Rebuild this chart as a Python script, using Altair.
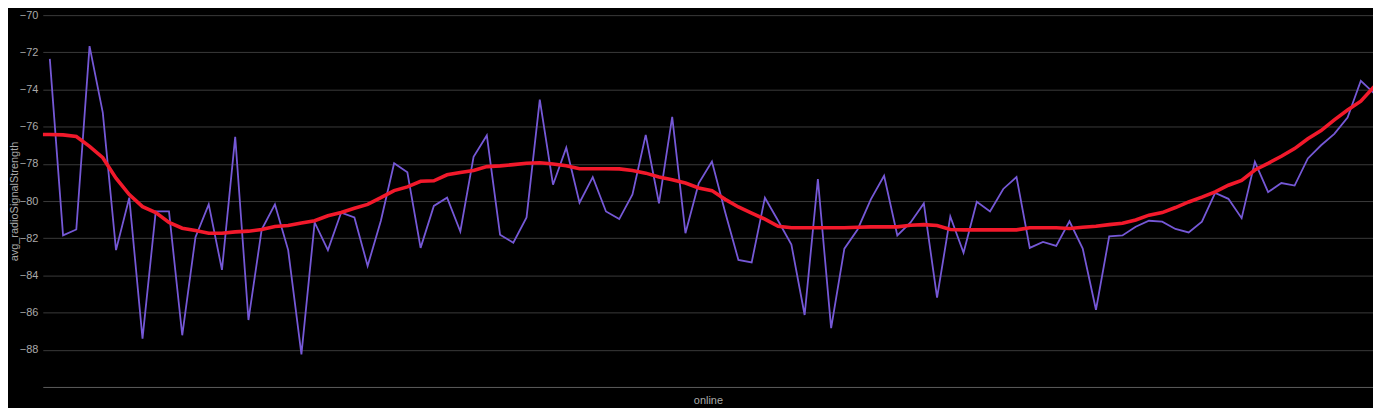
import altair as alt
import pandas as pd

# purple series: avg_radioSignalStrength per index
purple = [-72.35, -81.85, -81.53, -71.67, -75.24, -82.64, -79.82, -87.4, -80.56, -80.56,
          -87.22, -81.94, -80.18, -83.7, -76.55, -86.4, -81.53, -80.18, -82.64, -88.25,
          -81.15, -82.64, -80.62, -80.88, -83.49, -81.06, -77.97, -78.45, -82.52, -80.26,
          -79.82, -81.64, -77.62, -76.47, -81.81, -82.24, -80.88, -74.54, -79.12, -77.13,
          -80.09, -78.71, -80.56, -80.97, -79.65, -76.44, -80.12, -75.47, -81.73, -79.05,
          -77.88, -80.6, -83.17, -83.3, -79.82, -81.06, -82.34, -86.13, -78.82, -86.84,
          -82.56, -81.53, -79.91, -78.64, -81.85, -81.15, -80.13, -85.2, -80.83, -82.78,
          -80.04, -80.56, -79.35, -78.71, -82.52, -82.2, -82.41, -81.09, -82.56, -85.85,
          -81.9, -81.85, -81.38, -81.06, -81.11, -81.5, -81.69, -81.11, -79.56, -79.88,
          -80.92, -77.89, -79.52, -79.03, -79.17, -77.71, -77.0, -76.39, -75.51, -73.53,
          -74.2]
purple_idx = list(range(len(purple)))

# red smoothed series
red = [-76.42,
       -76.42, -76.44, -76.53, -77.06, -77.67, -78.77, -79.65, -80.3, -80.62, -81.15,
       -81.46, -81.59, -81.73, -81.73, -81.66, -81.62, -81.53, -81.37, -81.32, -81.18,
       -81.06, -80.79, -80.62, -80.39, -80.18, -79.82, -79.44, -79.24, -78.94, -78.91,
       -78.59, -78.47, -78.36, -78.15, -78.11, -78.04, -77.97, -77.94, -78.01, -78.1,
       -78.26, -78.26, -78.26, -78.27, -78.36, -78.5, -78.71, -78.85, -79.03, -79.3,
       -79.44, -79.91, -80.32, -80.65, -80.97, -81.36, -81.44, -81.44, -81.44, -81.44,
       -81.44, -81.41, -81.39, -81.39, -81.39, -81.3, -81.27, -81.32, -81.53, -81.55,
       -81.55, -81.55, -81.55, -81.55, -81.44, -81.44, -81.44, -81.48, -81.41, -81.36,
       -81.27, -81.2, -81.02, -80.76, -80.62, -80.35, -80.05, -79.79, -79.51, -79.15,
       -78.89, -78.33, -77.97, -77.59, -77.18, -76.65, -76.21, -75.63, -75.1, -74.63,
       -73.85]
red_idx = [-0.53] + list(range(101))

y_ticks = [-70, -72, -74, -76, -78, -80, -82, -84, -86, -88]

df_p = pd.DataFrame({"idx": purple_idx, "v": purple})
df_r = pd.DataFrame({"idx": red_idx, "v": red})

xscale = alt.Scale(domain=[-0.53, 99.92], nice=False, zero=False)
yscale = alt.Scale(domain=[-90, -70], nice=False, zero=False)

x_enc = alt.X("idx:Q", scale=xscale,
              axis=alt.Axis(title="online", labels=False, ticks=False, grid=False,
                            domain=True, domainColor="#5e5e5e", domainWidth=1,
                            titlePadding=8, titleColor="#aaaaaa", titleFontSize=11,
                            titleFontWeight="normal", titleFont="Liberation Sans"))
y_enc = alt.Y("v:Q", scale=yscale,
              axis=alt.Axis(title="avg_radioSignalStrength", values=y_ticks, ticks=False,
                            domain=False, grid=True, gridColor="#3a3a3a", gridWidth=1,
                            labelPadding=5, labelColor="#aaaaaa", labelFontSize=11,
                            labelFont="Liberation Sans",
                            titleX=-28, titleBaseline="middle",
                            titleColor="#aaaaaa", titleFontSize=11,
                            titleFontWeight="normal", titleFont="Liberation Sans"))

purple_line = alt.Chart(df_p).mark_line(color="#7558d6", strokeWidth=1.8, clip=True).encode(
    x=x_enc, y=y_enc)
red_line = alt.Chart(df_r).mark_line(color="#f2192b", strokeWidth=3.6, clip=True).encode(
    x="idx:Q", y="v:Q")

chart = alt.layer(purple_line, red_line).properties(
    width=1338, height=374,
    autosize=alt.AutoSizeParams(type="none"),
    padding={"left": 35, "top": 6, "right": 0, "bottom": 20},
    background="#000000",
).configure_view(stroke=None)

chart.save("out.html", embed_options={"renderer": "svg", "actions": False})
